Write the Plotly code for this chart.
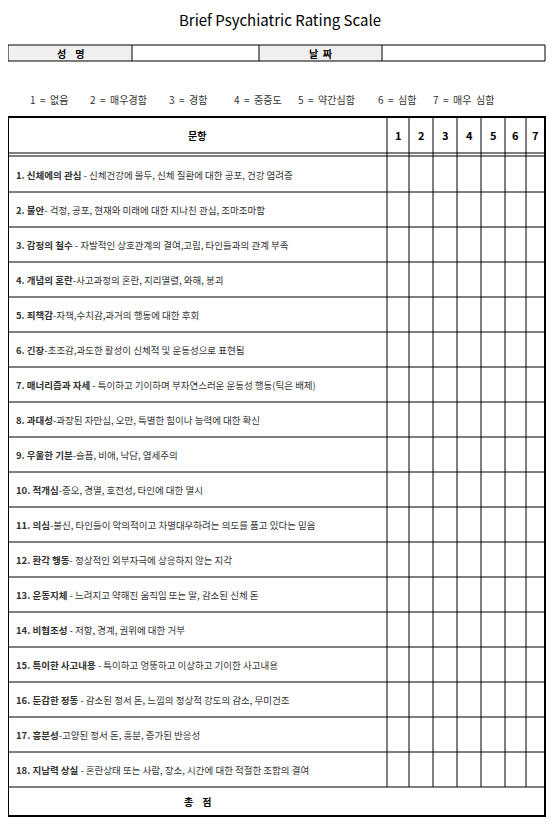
import plotly.graph_objects as go

TITLE = "Brief Psychiatric Rating Scale"
scale_labels = ["1 = 없음", "2 = 매우경함", "3 = 경함", "4 = 중증도", "5 = 약간심함", "6 = 심함", "7 = 매우 심함"]
scale_x = [28, 88, 167, 232, 296, 376, 431]
score_cols = ["1", "2", "3", "4", "5", "6", "7"]
items_bold = ["1. 신체에의 관심", "2. 불안", "3. 감정의 철수", "4. 개념의 혼란", "5. 죄책감", "6. 긴장",
              "7. 매너리즘과 자세", "8. 과대성", "9. 우울한 기분", "10. 적개심", "11. 의심", "12. 환각 행동",
              "13. 운동지체", "14. 비협조성", "15. 특이한 사고내용", "16. 둔감한 정동", "17. 흥분성", "18. 지남력 상실"]
items_desc = [" - 신체건강에 몰두, 신체 질환에 대한 공포, 건강 염려증",
              "- 걱정, 공포, 현재와 미래에 대한 지나친 관심, 조마조마함",
              " - 자발적인 상호관계의 결여,고립, 타인들과의 관계 부족",
              "-사고과정의 혼란, 지리멸렬, 와해, 붕괴",
              "-자책,수치감,과거의 행동에 대한 후회",
              "-초조감,과도한 활성이 신체적 및 운동성으로 표현됨",
              " - 특이하고 기이하며 부자연스러운 운동성 행동(틱은 배제)",
              "-과장된 자만심, 오만, 특별한 힘이나 능력에 대한 확신",
              "-슬픔, 비애, 낙담, 염세주의",
              "-증오, 경멸, 호전성, 타인에 대한 멸시",
              "-불신, 타인들이 악의적이고 차별대우하려는 의도를 품고 있다는 믿음",
              "- 정상적인 외부자극에 상응하지 않는 지각",
              " - 느려지고 약해진 움직임 또는 말, 감소된 신체 돈",
              " - 저항, 경계, 권위에 대한 거부",
              " - 특이하고 엉뚱하고 이상하고 기이한 사고내용",
              " - 감소된 정서 돈, 느낌의 정상적 강도의 감소, 무미건조",
              "-고양된 정서 돈, 흥분, 증가된 반응성",
              " - 혼란상태 또는 사람, 장소, 시간에 대한 적절한 조합의 결여"]

FONT = "Noto Sans CJK KR"
W, H = 560, 824
OFF = 8  # page body margin
L, R = 8, 545
col_x = [387, 409, 433, 457, 481, 505, 526]
row_top, row_h = 157, 35

fig = go.Figure()
shapes, ann = [], []

def line(x0, y0, x1, y1, w=1):
    shapes.append(dict(type="line", x0=x0, y0=y0, x1=x1, y1=y1, line=dict(color="black", width=w)))

def text(x, y, s, size=10, anchor="center", color="#222"):
    ann.append(dict(x=x, y=y, text=s, showarrow=False, xanchor=anchor, yanchor="middle",
                    font=dict(family=FONT, size=size, color=color)))

text(280, 19, TITLE, size=15, color="black")

# name/date row
for x0, x1 in [(L, 132), (259, 382)]:
    shapes.append(dict(type="rect", x0=x0, y0=45, x1=x1, y1=61, fillcolor="#f0f0f0", line=dict(width=0), layer="below"))
shapes.append(dict(type="rect", x0=L, y0=45, x1=R, y1=61, line=dict(color="black", width=1)))
for x in [132, 259, 382]:
    line(x, 45, x, 61)
text(70, 53, "<b>성    명</b>", size=10, color="black")
text(320, 53, "<b>날  짜</b>", size=10, color="black")

for x, s in zip(scale_x, scale_labels):
    text(x, 99, s.replace(" ", "&nbsp;&nbsp;"), size=10, anchor="left", color="#333")

# main table
bottom = row_top + row_h * len(items_bold) + 29
shapes.append(dict(type="rect", x0=L, y0=117, x1=R, y1=bottom, line=dict(color="black", width=2)))
line(L, 153, R, 153)
line(L, 156, R, 156)
for i in range(1, len(items_bold) + 1):
    line(L, row_top + row_h * i, R, row_top + row_h * i)
for x in col_x:
    line(x, 117, x, row_top + row_h * len(items_bold))
text(197, 135, "<b>문항</b>", size=10, color="black")
edges = col_x + [R]
for i, c in enumerate(score_cols):
    text((edges[i] + edges[i + 1]) / 2, 135, f"<b>{c}</b>", size=11, color="black")
for i, (b, d) in enumerate(zip(items_bold, items_desc)):
    text(14, row_top + row_h * i + row_h / 2, f"<b>{b}</b>{d}", size=9.5, anchor="left", color="#333")
text(197, row_top + row_h * len(items_bold) + 14, "<b>총    점</b>", size=10, color="black")

fig.update_layout(
    width=W, height=H, margin=dict(l=0, r=0, t=0, b=0),
    plot_bgcolor="white", paper_bgcolor="white",
    xaxis=dict(range=[OFF, W + OFF], visible=False, fixedrange=True),
    yaxis=dict(range=[H + OFF, OFF], visible=False, fixedrange=True),
    shapes=shapes, annotations=ann, showlegend=False,
)
fig.write_html("out.html")
